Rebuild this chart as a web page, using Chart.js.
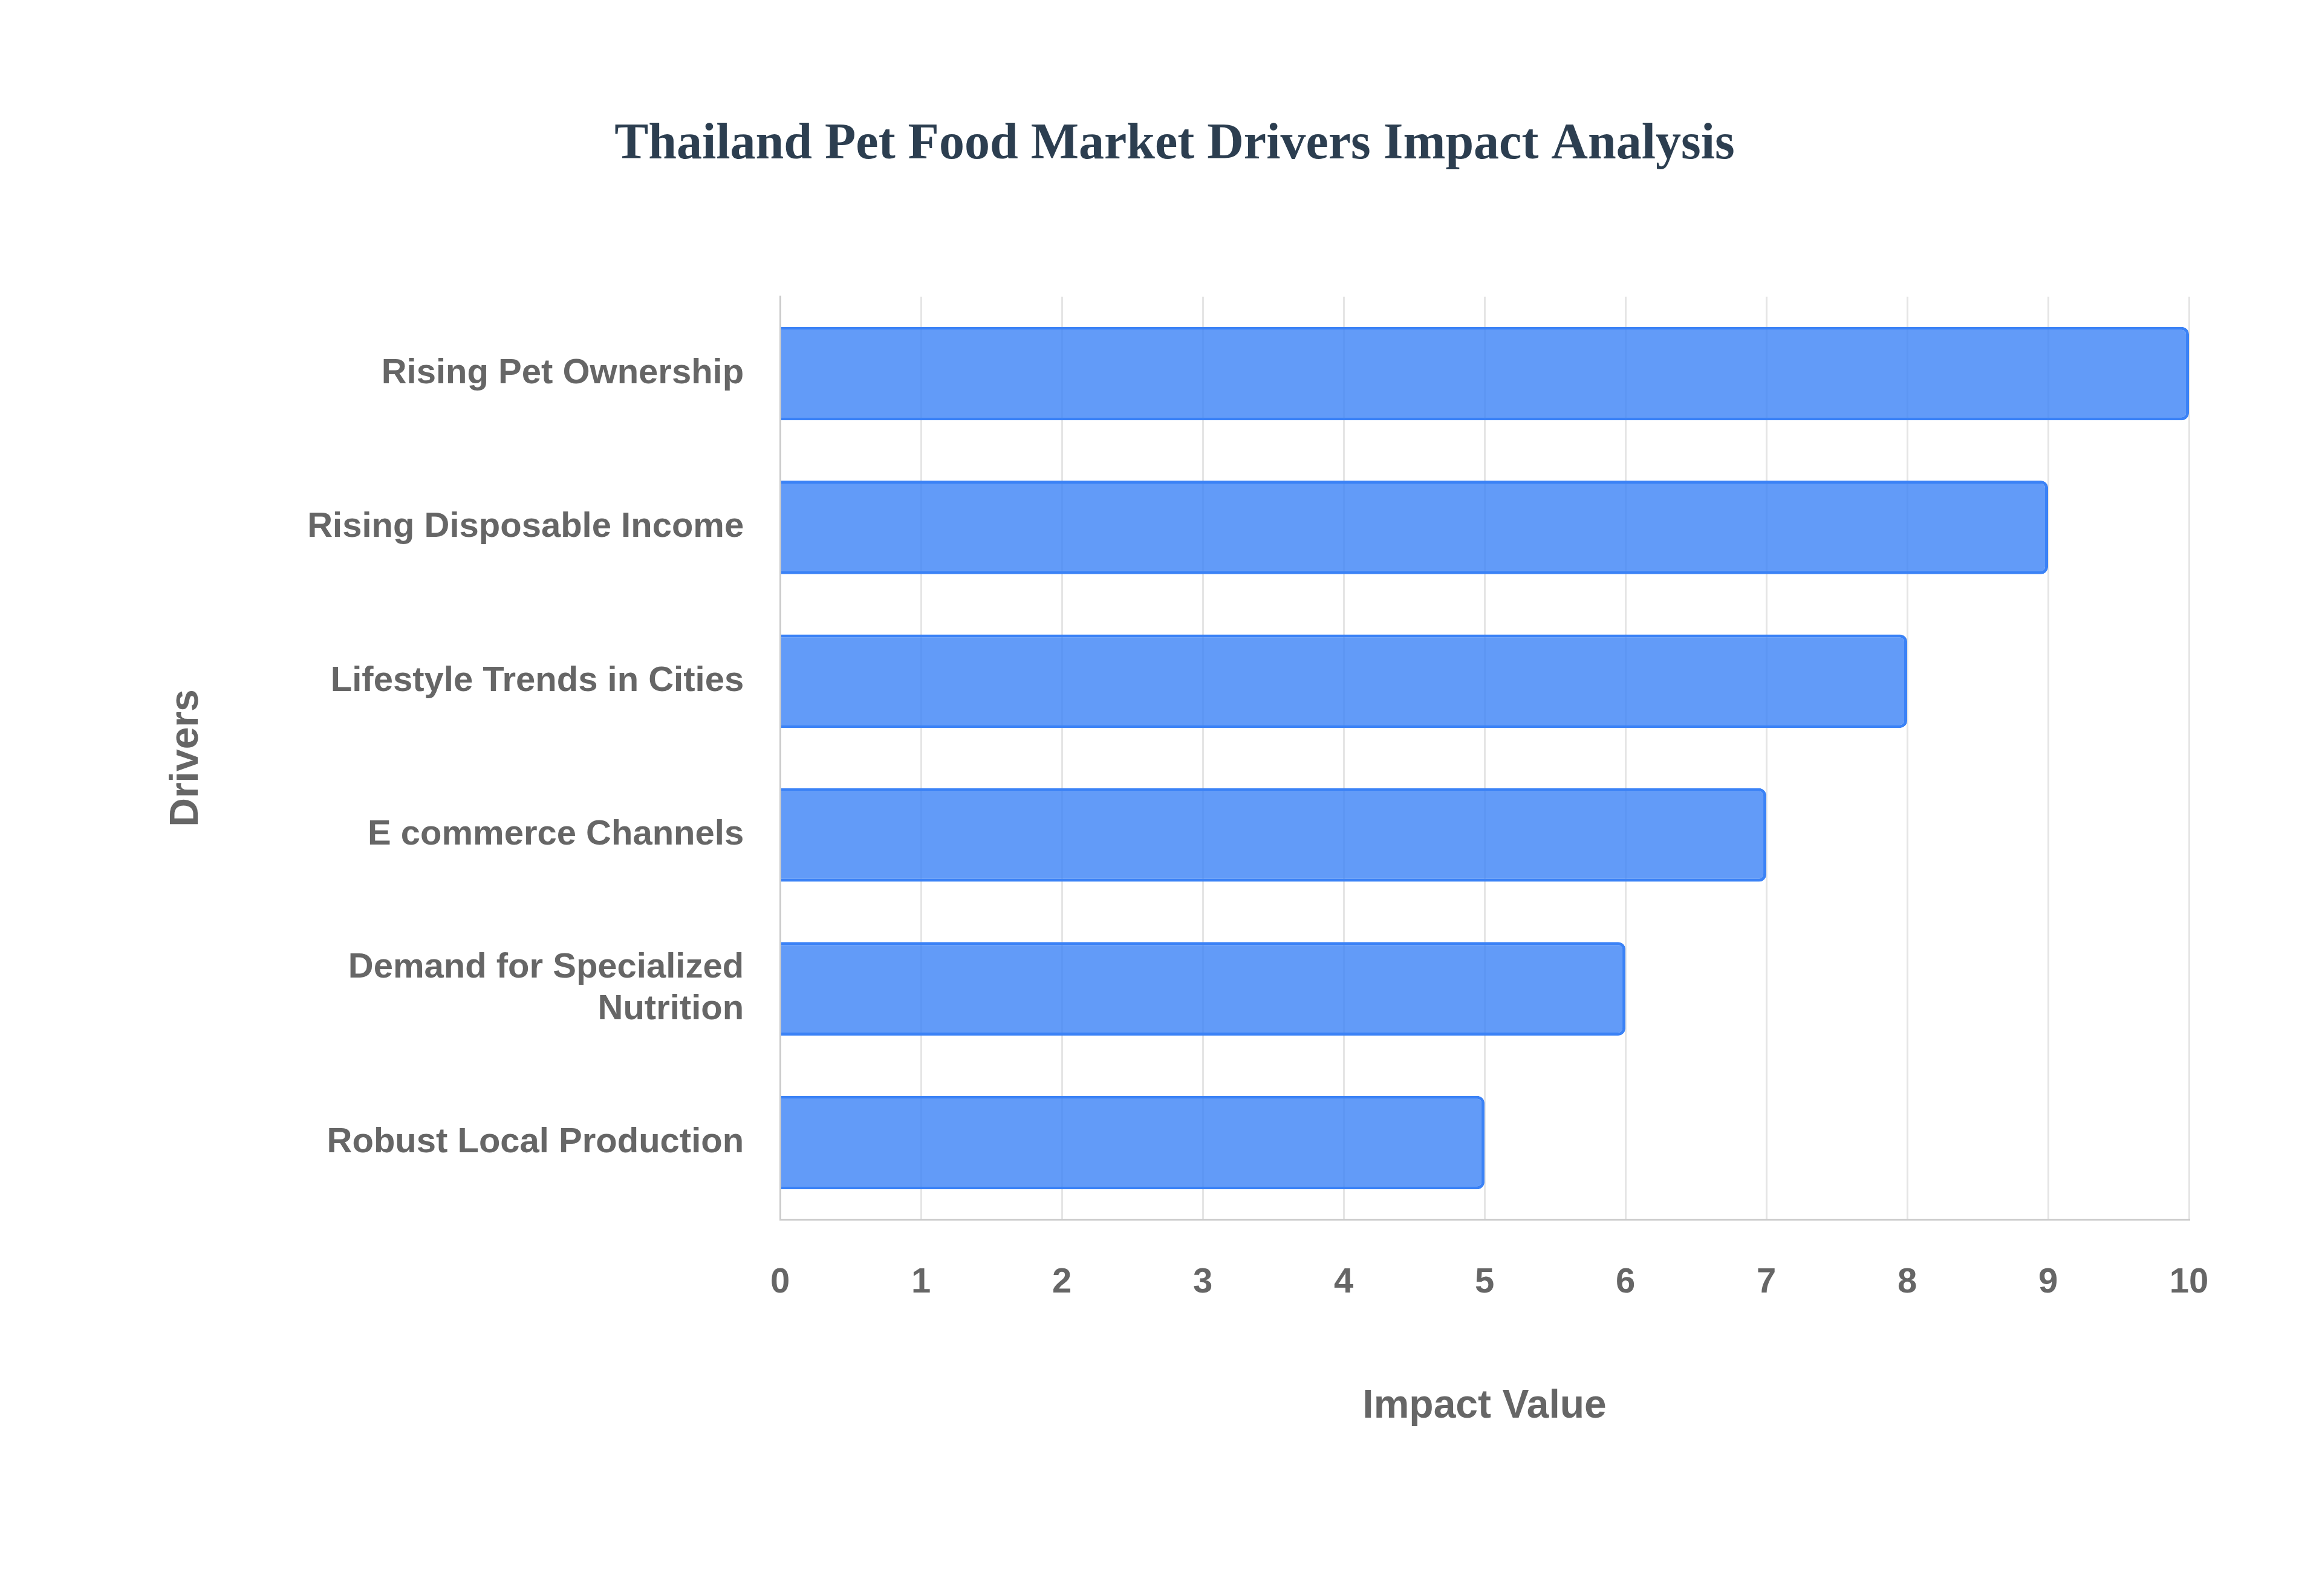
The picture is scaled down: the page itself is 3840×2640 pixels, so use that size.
<!DOCTYPE html>
<html>
<head>
<meta charset="utf-8">
<script src="https://cdn.jsdelivr.net/npm/chart.js@4.4.0/dist/chart.umd.min.js"></script>
<style>
  html, body { margin: 0; padding: 0; background: #fff; }
  #wrap { width: 3840px; height: 2640px; }
</style>
</head>
<body>
<div id="wrap"><canvas id="chart" width="3840" height="2640"></canvas></div>
<script>
// データ
const drivers = [
  'Rising Pet Ownership',
  'Rising Disposable Income',
  'Lifestyle Trends in Cities',
  'E commerce Channels',
  ['Demand for Specialized', 'Nutrition'],
  'Robust Local Production'
];
const impactValues = [10, 9, 8, 7, 6, 5];
const xTicks = [0, 1, 2, 3, 4, 5, 6, 7, 8, 9, 10];

const tickFont = { family: 'Liberation Sans, Arial, sans-serif', size: 58, weight: 'bold' };
const axisTitleFont = { family: 'Liberation Sans, Arial, sans-serif', size: 66, weight: 'bold' };

new Chart(document.getElementById('chart'), {
  type: 'bar',
  data: {
    labels: drivers,
    datasets: [{
      label: 'Impact Value',
      data: impactValues,
      backgroundColor: 'rgba(59,130,246,0.8)',
      borderColor: 'rgb(59,130,246)',
      borderWidth: 5,
      borderRadius: 12,
      borderSkipped: 'start',
      barPercentage: 0.76,
      categoryPercentage: 0.8
    }]
  },
  options: {
    indexAxis: 'y',
    responsive: false,
    devicePixelRatio: 1,
    animation: false,
    layout: { padding: { left: 265, right: 220, top: 80, bottom: 270 } },
    plugins: {
      legend: { display: false },
      tooltip: { enabled: false },
      title: {
        display: true,
        text: 'Thailand Pet Food Market Drivers Impact Analysis',
        color: '#2c3e50',
        font: { family: 'Liberation Serif, Times New Roman, serif', size: 84, weight: 'bold' },
        padding: { top: 110, bottom: 200 }
      }
    },
    scales: {
      x: {
        min: 0, max: 10,
        afterBuildTicks: (axis) => { axis.ticks = xTicks.map(v => ({ value: v })); },
        grid: { color: '#e5e5e5', lineWidth: 3, drawTicks: false },
        border: { color: '#ccc', width: 3 },
        ticks: { color: '#666', font: tickFont, padding: 70 },
        title: { display: true, text: 'Impact Value', color: '#666', font: axisTitleFont, padding: { top: 60 } }
      },
      y: {
        grid: { display: false, drawTicks: false },
        border: { color: '#ccc', width: 3 },
        ticks: { color: '#666', font: tickFont, padding: 60 },
        title: { display: true, text: 'Drivers', color: '#666', font: axisTitleFont, padding: { bottom: 100 } }
      }
    }
  }
});
</script>
</body>
</html>
